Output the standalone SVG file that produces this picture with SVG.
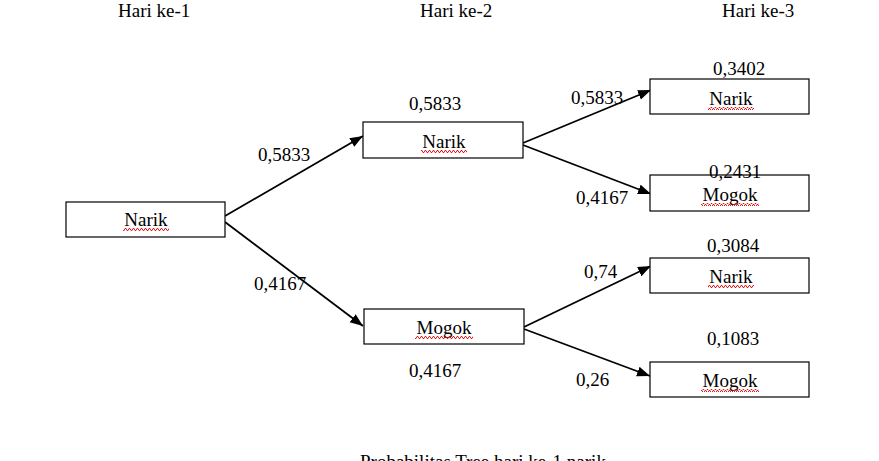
<svg xmlns="http://www.w3.org/2000/svg" width="879" height="461" viewBox="0 0 879 461">
  <style>
    text { font-family: "Liberation Serif", "Times New Roman", serif; font-size: 19px; fill: #000; }
    .c { text-anchor: middle; }
    .box { fill: #fff; stroke: #000; stroke-width: 1.2; }
    .edge { stroke: #000; stroke-width: 1.8; fill: none; marker-end: url(#arrow); }
    .sq { fill: url(#squiggle); }
  </style>
  <defs>
    <marker id="arrow" markerUnits="userSpaceOnUse" markerWidth="14" markerHeight="12" refX="13" refY="5" orient="auto">
      <path d="M0,0 L13,5 L0,10 Z" fill="#000"/>
    </marker>
    <pattern id="squiggle" patternUnits="userSpaceOnUse" width="4" height="3">
      <path d="M0,2.5 L1,0.5 L2,0.5 L3,2.5 L4,2.5" stroke="#e00000" stroke-width="0.9" fill="none"/>
    </pattern>
  </defs>
  <rect width="879" height="461" fill="#fff"/>

  <g id="headers">
    <text x="118" y="17">Hari ke-1</text>
    <text x="420" y="17">Hari ke-2</text>
    <text x="722" y="17">Hari ke-3</text>
  </g>

  <g id="connectors">
    <line class="edge" x1="225" y1="216" x2="363" y2="136"/>
    <line class="edge" x1="225" y1="222" x2="363" y2="326"/>
    <line class="edge" x1="523" y1="143" x2="651" y2="90"/>
    <line class="edge" x1="523" y1="145" x2="651" y2="194"/>
    <line class="edge" x1="524" y1="327" x2="651" y2="266"/>
    <line class="edge" x1="524" y1="329" x2="650" y2="376"/>
    <text x="258" y="161">0,5833</text>
    <text x="254" y="290">0,4167</text>
    <text x="571" y="104">0,5833</text>
    <text x="576" y="204">0,4167</text>
    <text x="584" y="278">0,74</text>
    <text x="576" y="386">0,26</text>
  </g>

  <g id="node-day1-narik">
    <rect class="box" x="66" y="202" width="159" height="35"/>
    <text class="c" x="146" y="226">Narik</text>
    <rect class="sq" x="123" y="228" width="46" height="3"/>
  </g>

  <g id="node-day2-narik">
    <text class="c" x="435" y="110">0,5833</text>
    <rect class="box" x="363" y="122" width="160" height="36"/>
    <text class="c" x="444" y="148">Narik</text>
    <rect class="sq" x="421" y="150" width="46" height="3"/>
  </g>

  <g id="node-day2-mogok">
    <rect class="box" x="364" y="309" width="160" height="35"/>
    <text class="c" x="444" y="334">Mogok</text>
    <rect class="sq" x="415" y="336" width="58" height="3"/>
    <text class="c" x="435" y="377">0,4167</text>
  </g>

  <g id="node-day3-narik-1">
    <rect class="box" x="650" y="79" width="159" height="35"/>
    <text class="c" x="739" y="75">0,3402</text>
    <text class="c" x="731" y="105">Narik</text>
    <rect class="sq" x="708" y="107" width="46" height="3"/>
  </g>

  <g id="node-day3-mogok-1">
    <rect class="box" x="650" y="175" width="159" height="36"/>
    <text class="c" x="735" y="178">0,2431</text>
    <text class="c" x="730" y="201">Mogok</text>
    <rect class="sq" x="701" y="203" width="58" height="3"/>
  </g>

  <g id="node-day3-narik-2">
    <text class="c" x="733" y="252">0,3084</text>
    <rect class="box" x="650" y="258" width="159" height="35"/>
    <text class="c" x="731" y="283">Narik</text>
    <rect class="sq" x="708" y="285" width="46" height="3"/>
  </g>

  <g id="node-day3-mogok-2">
    <text class="c" x="733" y="345">0,1083</text>
    <rect class="box" x="650" y="362" width="159" height="35"/>
    <text class="c" x="730" y="387">Mogok</text>
    <rect class="sq" x="701" y="389" width="58" height="3"/>
  </g>

  <g id="caption">
    <text x="360" y="468">Probabilitas Tree hari ke-1 narik</text>
  </g>
</svg>
